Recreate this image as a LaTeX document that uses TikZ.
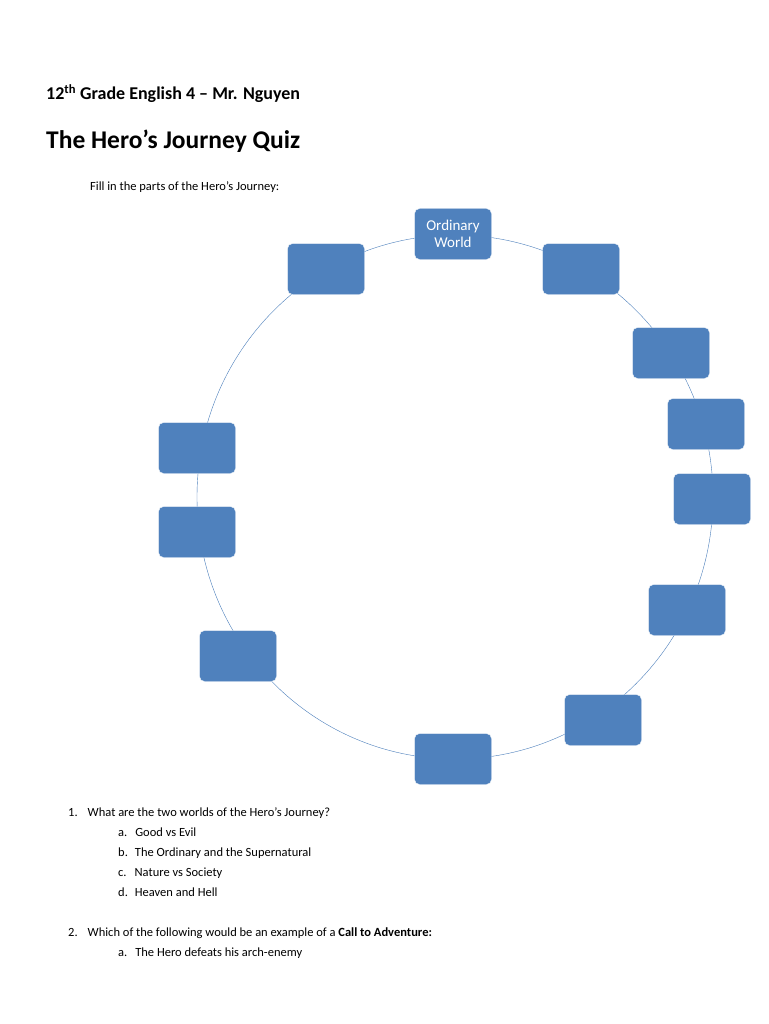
\documentclass[tikz,border=0pt]{standalone}
\usepackage{fontspec}
\setmainfont{Carlito}
\definecolor[named]{myBoxBlue}{RGB}{79,129,189}
\definecolor[named]{myRingBlue}{RGB}{74,126,187}
\begin{document}
\begin{tikzpicture}
[%
    x=1pt, y=-1pt,
    stage/.style={
      rectangle,
      draw=white,
      fill=myBoxBlue,
      minimum width=77pt,
      minimum height=51pt,
      rounded corners=5pt,
      text=white,
      align=center,
      font=\fontsize{15}{17}\selectfont
    },
    txt/.style={
      anchor=base west,
      inner sep=0pt,
      font=\fontsize{12.5}{14}\selectfont
    }
  ]
  \useasboundingbox[fill=white] (0,0) rectangle (768,1024);
  %Header
  \node[txt,font=\bfseries\fontsize{18}{20}\selectfont] (grade) at (46,100) {12\textsuperscript{th} Grade English 4 -- Mr. Nguyen};
  \node[txt,font=\bfseries\fontsize{25.5}{28}\selectfont] (title) at (46,149) {The Hero’s Journey Quiz};
  \node[txt] (fill) at (90,191) {Fill in the parts of the Hero’s Journey:};
  %Ring
  \draw[myRingBlue,thin] (455,497) ellipse (258pt and 262pt);
  \node[stage] (ow) at (453,234) {Ordinary\\World};
  \node[stage] (s2) at (581,269) {};
  \node[stage] (s3) at (671,353) {};
  \node[stage] (s4) at (706,424) {};
  \node[stage] (s5) at (712,499) {};
  \node[stage] (s6) at (687,610) {};
  \node[stage] (s7) at (603,720) {};
  \node[stage] (s8) at (453,759) {};
  \node[stage] (s9) at (238,656) {};
  \node[stage] (s10) at (197,532) {};
  \node[stage] (s11) at (197,448) {};
  \node[stage] (s12) at (326,269) {};
  %Questions
  \node[txt] (q1) at (68,816) {1.\hspace{10pt}What are the two worlds of the Hero’s Journey?};
  \node[txt] (q1a) at (118,836) {a.\hspace{8pt}Good vs Evil};
  \node[txt] (q1b) at (118,856) {b.\hspace{7pt}The Ordinary and the Supernatural};
  \node[txt] (q1c) at (118,876) {c.\hspace{8pt}Nature vs Society};
  \node[txt] (q1d) at (118,896) {d.\hspace{7pt}Heaven and Hell};
  \node[txt] (q2) at (68,936) {2.\hspace{10pt}Which of the following would be an example of a \textbf{Call to Adventure:}};
  \node[txt] (q2a) at (118,956) {a.\hspace{8pt}The Hero defeats his arch-enemy};
\end{tikzpicture}
\end{document}
